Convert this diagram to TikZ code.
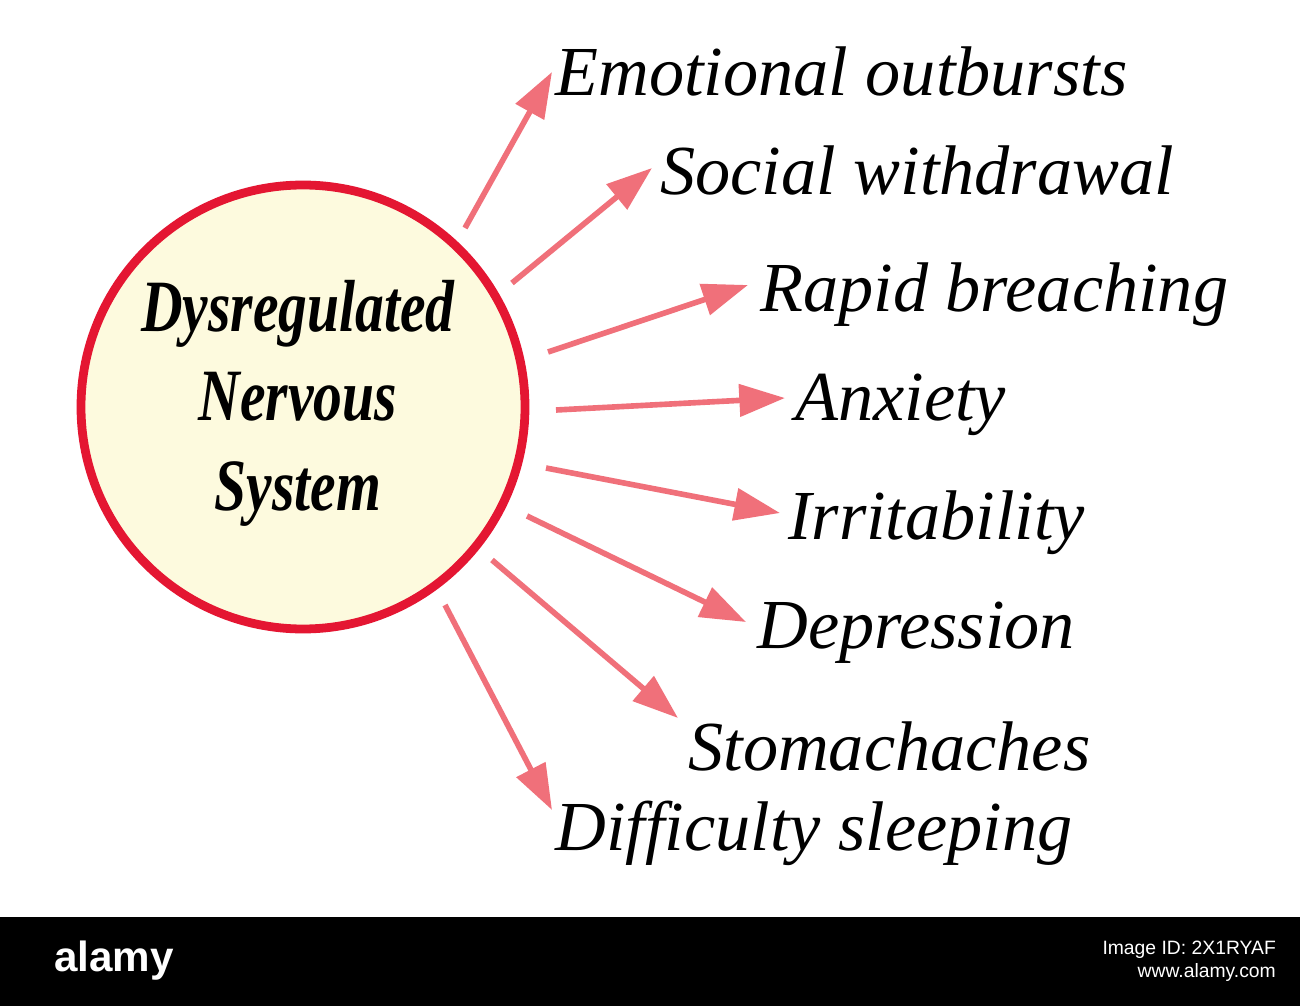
\documentclass[tikz,border=0pt]{standalone}
\usepackage{fontspec}
\setmainfont{Liberation Serif}
\newfontfamily\sansf{Liberation Sans}
\usetikzlibrary{arrows.meta}
\definecolor{arr}{RGB}{240,112,122}
\definecolor{ring}{RGB}{228,22,50}
\definecolor{fillc}{RGB}{253,250,222}
\begin{document}
\begin{tikzpicture}[x=0.02cm,y=-0.02cm,
  lab/.style={anchor=west,font=\fontsize{40}{44}\selectfont\itshape,inner sep=0},
  ar/.style={draw=arr,line width=3.2pt,-{Triangle[length=26pt,width=18pt]}}]
\useasboundingbox (0,0) rectangle (1300,1006);
\fill[white] (0,0) rectangle (1300,917);
\node[circle,draw=ring,fill=fillc,line width=5pt,minimum size=444*0.02cm] (c) at (303,407) {};
\node[align=center,font=\fontsize{42}{51}\selectfont\bfseries\itshape,text=black] (t) at (298,403)
  {\scalebox{0.78}[1]{Dysregulated}\\\scalebox{0.78}[1]{Nervous}\\\scalebox{0.78}[1]{System}};
\node[lab] (l1) at (555,72) {Emotional outbursts};
\node[lab] (l2) at (660,170) {Social withdrawal};
\node[lab] (l3) at (760,295) {Rapid breaching};
\node[lab] (l4) at (795,405) {Anxiety};
\node[lab] (l5) at (788,523) {Irritability};
\node[lab] (l6) at (757,633) {Depression};
\node[lab] (l7) at (688,746) {Stomachaches};
\node[lab] (l8) at (555,833) {Difficulty sleeping};
\coordinate (s1) at (465,228); \coordinate (e1) at (552,72);
\coordinate (s2) at (512,283); \coordinate (e2) at (652,168);
\coordinate (s3) at (548,352); \coordinate (e3) at (748,285);
\coordinate (s4) at (556,410); \coordinate (e4) at (785,398);
\coordinate (s5) at (546,468); \coordinate (e5) at (780,513);
\coordinate (s6) at (527,516); \coordinate (e6) at (746,622);
\coordinate (s7) at (492,560); \coordinate (e7) at (678,718);
\coordinate (s8) at (445,605); \coordinate (e8) at (552,810);
\foreach \i in {1,...,8} \draw[ar] (s\i) -- (e\i);
\fill[black] (0,917) rectangle (1300,1006);
\node[anchor=west,text=white,font=\sansf\bfseries\fontsize{24}{26}\selectfont] (al) at (48,961) {alamy};
\node[anchor=east,text=white,font=\sansf\fontsize{11}{13}\selectfont,align=right] (id) at (1282,961) {Image ID: 2X1RYAF\\www.alamy.com};
\end{tikzpicture}
\end{document}
